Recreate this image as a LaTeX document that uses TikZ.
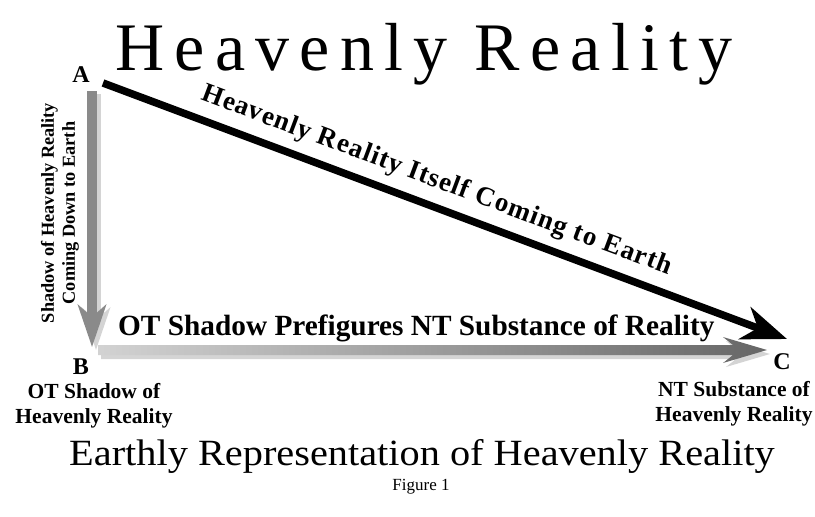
\documentclass[tikz,border=0pt]{standalone}
\usepackage{fontspec}
\setmainfont{Liberation Serif}
\newfontfamily\titlefont[LetterSpace=15]{Liberation Serif}
\newfontfamily\slopefont[LetterSpace=4]{Liberation Serif}
\usepackage{xcolor}
\usepackage{tikz}
\usetikzlibrary{arrows.meta, calc}
\definecolor{shaftgray}{HTML}{8A8A8A}
\definecolor{shadowgray}{HTML}{D4D4D4}

\begin{document}
\begin{tikzpicture}[x=1pt, y=1pt,
        corner/.style={font=\fontsize{24}{24}\selectfont\bfseries, inner sep=0pt},
        side/.style={font=\fontsize{21.5}{25}\selectfont\bfseries, align=center, inner sep=0pt},
        greyhead/.style={-{Stealth[length=42pt, width=28pt, inset=12pt]}}]
        \useasboundingbox (0,0) rectangle (815,-517);

        \node[anchor=base, inner sep=0pt] at (424,-70) (title) {\titlefont\fontsize{68}{68}\selectfont Heavenly Reality};

        \node[corner] at (81,-75) (a) {A};
        \node[corner] at (81,-367) (b) {B};
        \node[corner] at (782,-362) (c) {C};

        \coordinate (atop) at (103,-83);
        \coordinate (ctip) at (787,-339);
        \coordinate (vtop) at (92,-91);
        \coordinate (vtip) at (92,-347);
        \coordinate (hs) at (98,-350);
        \coordinate (he) at (767,-350);

        % A to B, grey with a shadow
        \draw[line width=10pt, shadowgray, greyhead] ($(vtop)+(4,-3)$) -- ($(vtip)+(4,-3)$);
        \draw[line width=10pt, shaftgray, greyhead] (vtop) -- (vtip);
        \node[rotate=90, align=center, font=\fontsize{18.3}{21}\selectfont\bfseries] at (60,-213) (ab) {Shadow of Heavenly Reality\\Coming Down to Earth};

        % B to C, shaded
        \fill[shadowgray] ($(hs)+(3,1)$) -- ($(he)+(-31,1)$) -- ($(he)+(-41,9)$) -- ($(he)+(3,-4)$) -- ($(he)+(-41,-17)$) -- ($(he)+(-31,-9)$) -- ($(hs)+(3,-9)$) -- cycle;
        \path[left color=gray!35, right color=gray!80!black] ($(hs)+(0,5)$) -- ($(he)+(-34,5)$) -- ($(he)+(-44,13)$) -- (he) -- ($(he)+(-44,-13)$) -- ($(he)+(-34,-5)$) -- ($(hs)+(0,-5)$) -- cycle;
        \node[anchor=base west, inner sep=0pt, font=\fontsize{29.3}{29}\selectfont\bfseries] at (118,-335) (bc) {OT Shadow Prefigures NT Substance of Reality};

        % A to C
        \draw[line width=7.5pt, -{Stealth[length=45pt, width=34pt, inset=14pt]}] (atop) -- (ctip)
            node[pos=0.475, sloped, above=9pt, inner sep=0pt, font=\slopefont\fontsize{27}{27}\selectfont\bfseries] (ac) {Heavenly Reality Itself Coming to Earth};

        \node[side] at (94,-406) (bl) {OT Shadow of\\Heavenly Reality};
        \node[side] at (734,-404) (cl) {NT Substance of\\Heavenly Reality};

        \node[anchor=base, inner sep=0pt] at (422,-465) (earth) {\scalebox{1.09}[1]{\fontsize{37}{37}\selectfont Earthly Representation of Heavenly Reality}};
        \node[anchor=base, inner sep=0pt] at (421,-490) (fig) {\fontsize{17}{17}\selectfont Figure 1};
    \end{tikzpicture}
\end{document}
